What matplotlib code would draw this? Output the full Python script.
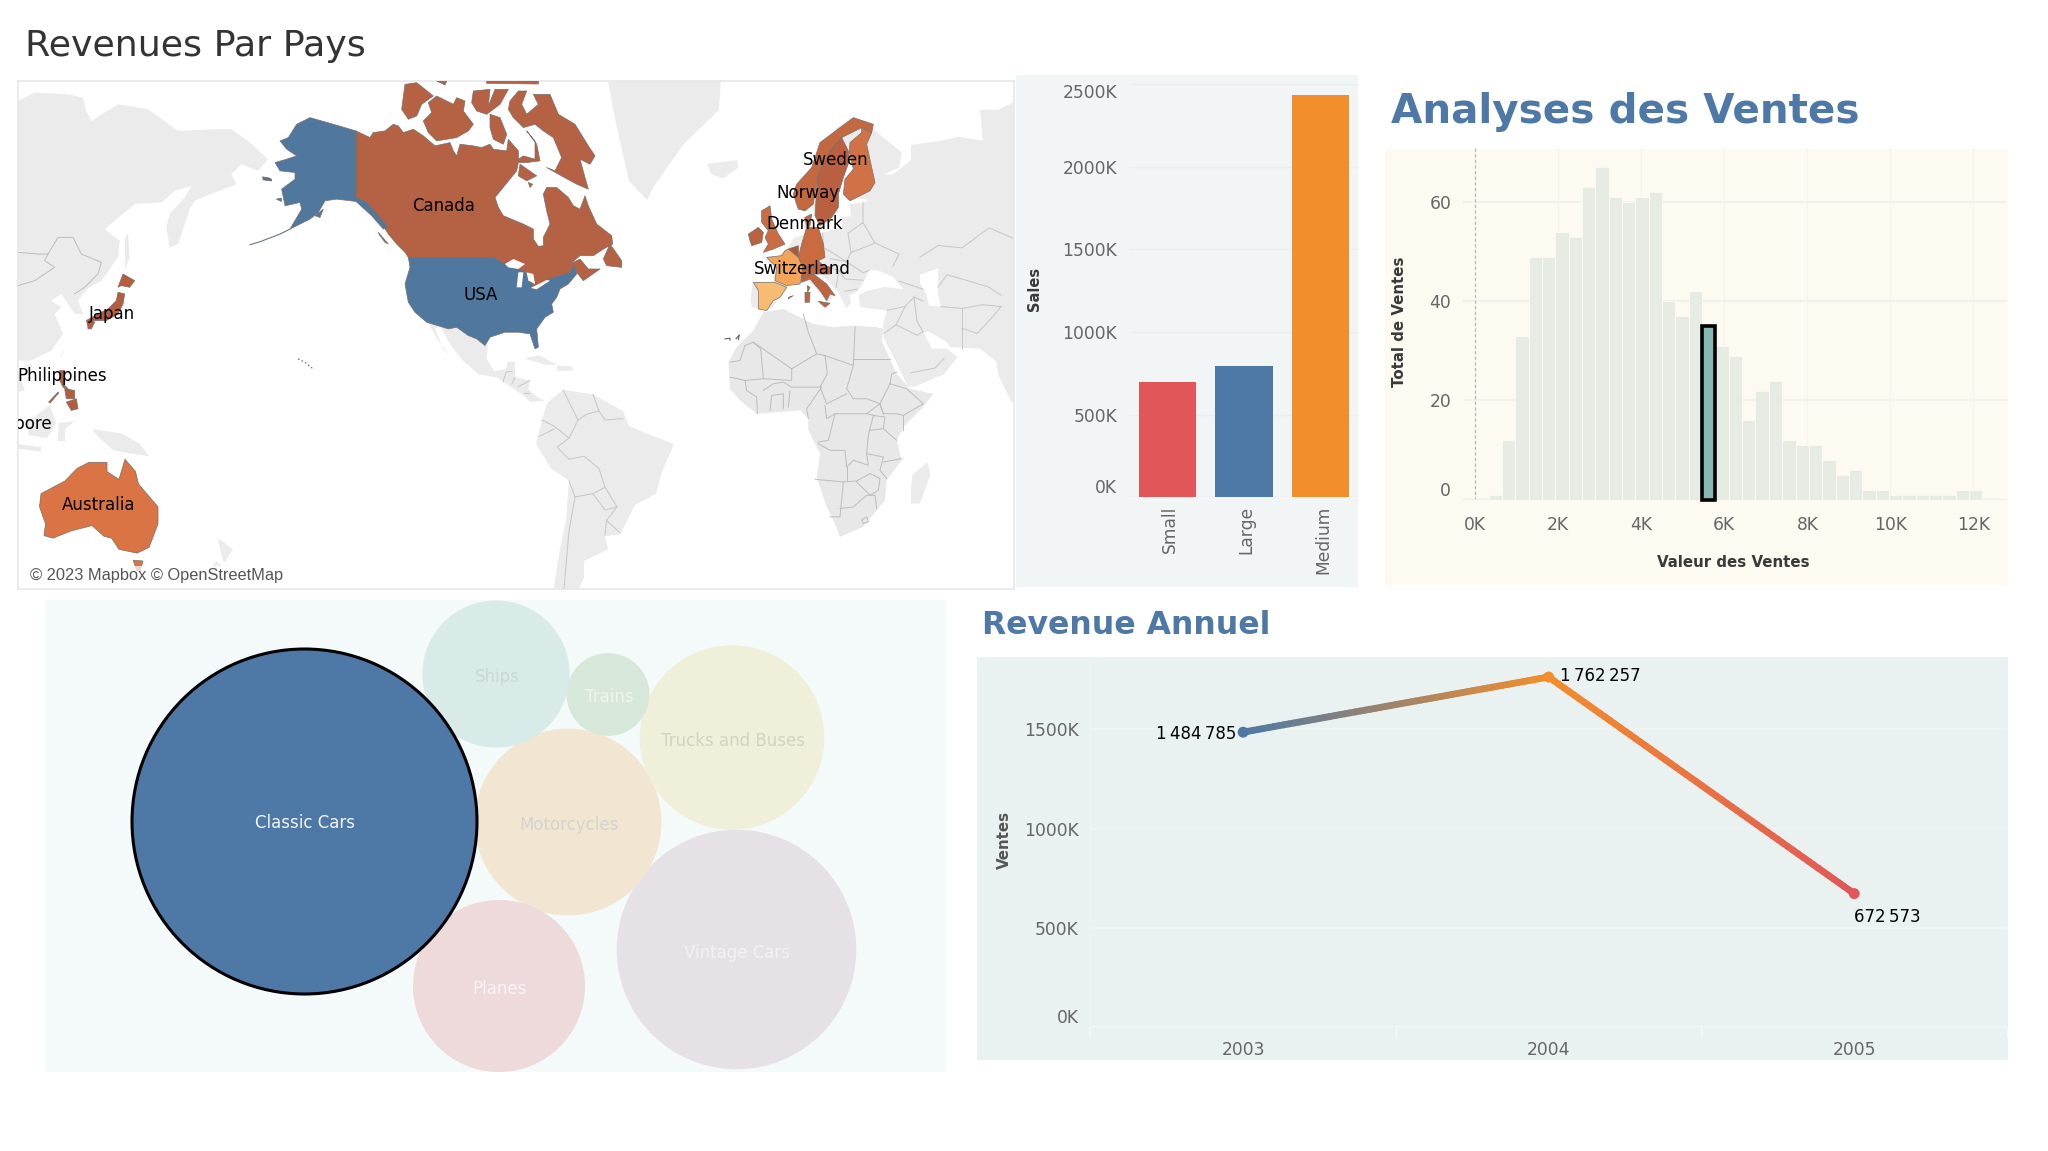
import numpy as np
import matplotlib
matplotlib.use("Agg")
import matplotlib.pyplot as plt
from matplotlib.collections import LineCollection
from matplotlib.patches import Polygon, Rectangle
from matplotlib.transforms import Affine2D, ScaledTranslation

W, H = 2048, 1151

BLUE = "#4e79a7"
ORANGE = "#f28e2b"
RED = "#e15759"
TICK = "#666666"

# sales by deal size
deal_sizes = ["Small", "Large", "Medium"]
deal_sales = [696, 794, 2437]
deal_colors = [RED, BLUE, ORANGE]

# histogram of order values
bin_width = 0.3215
bin_counts = [1, 12, 33, 49, 49, 54, 53, 63, 67, 61, 60, 61, 62, 40, 37, 42, 35, 31, 29,
              16, 22, 24, 12, 11, 11, 8, 5, 6, 2, 2, 1, 1, 1, 1, 1, 2, 2]
selected_bin = 16

# yearly revenue
years = [2003, 2004, 2005]
revenue = [1484785, 1762257, 672573]
revenue_labels = ["1\u2009484\u2009785", "1\u2009762\u2009257", "672\u2009573"]
year_colors = [BLUE, ORANGE, RED]

# bubbles, sales in K
product_lines = ["Classic Cars", "Vintage Cars", "Motorcycles", "Trucks and Buses", "Planes", "Ships", "Trains"]
product_sales = [3920, 1890, 1150, 1120, 975, 714, 226]
bubble_x = [304, 736.5, 568, 732, 499, 496, 608]
bubble_y = [820.5, 949.5, 822, 737.5, 986, 674, 694.5]
bubble_colors = [BLUE, "#e6e1e7", "#f2e5d2", "#f0efd9", "#eed9db", "#d9ebe8", "#d7e8da"]
bubble_text = ["#f2f5f8", "#f4f1f4", "#d3d4ce", "#d2d3c2", "#f9f3f4", "#c9d8d5", "#eef5ef"]

# background land, lon/lat
eurasia_west = [(-9, 37), (-9.5, 38.7), (-8.8, 43), (-1.8, 43.4), (-1.2, 46), (-4.7, 48.4), (-1.5, 48.7), (1.5, 50.2),
                (3.5, 51.4), (4.8, 53), (8.5, 53.7), (8.2, 57), (10.5, 57.7), (10.2, 54.5), (14, 54), (18.5, 54.7),
                (21, 55.2), (21, 57), (24, 57.2), (23.5, 59.3), (28, 59.6), (30, 60), (26, 60.3), (22.5, 60), (21.5, 61.5),
                (21.5, 63), (25, 65), (22, 65.8), (17.5, 62), (17, 60.5), (18.8, 59.8), (16.5, 58), (16, 56.2), (14.3, 55.5),
                (12.8, 55.5), (11, 59), (8, 58), (5.5, 59), (5, 62), (10, 64), (14, 67.5), (19, 70), (25, 71), (31, 70),
                (41, 67), (40, 65), (35, 64), (38, 64), (44, 66), (44, 68), (54, 68.5), (60, 69), (68, 68.5), (67, 72),
                (73, 72), (80, 73), (100, 76), (100, 5), (80, 8), (77.5, 8), (73, 17), (72.5, 21), (67, 25), (57, 25.5),
                (56, 27), (50, 30), (48, 30), (51, 25), (56, 25), (59.5, 22.5), (55, 17), (45, 13), (43, 13), (39, 21), (35, 28),
                (34.5, 31.5), (36, 36), (30, 36.5), (27, 37), (26.5, 40), (29, 41), (35, 42), (41.5, 41.5), (38, 44.5), (33, 46),
                (30, 46), (28, 43), (26, 40.8), (23.5, 40), (24, 38), (22.5, 36.5), (19.5, 41), (13.5, 45.5), (12.3, 45.3),
                (18.5, 40), (16, 38), (12, 42), (8.5, 44.3), (3, 43), (3, 41.8), (0, 39.5), (-2, 36.8), (-5.5, 36)]
asia_islands = [
    [(95, 5.5), (104, -2), (106, -6), (102, -4), (97, 1)],
    [(106, -6), (114, -7), (114, -8.5), (106, -7.5)],
    [(109, 1), (117, 7), (119, 1), (116, -4), (110, -3)],
    [(119.5, -5), (120, 1), (125, 1.5), (122, -1), (122, -5)],
    [(131, -1), (141, -2.5), (147, -6), (150, -10), (143, -9), (138, -8), (133, -3.5)],
    [(120, 22), (122, 25), (121, 23)],
    [(142, 46), (143.5, 49), (143, 54), (142, 53), (142, 48)],
    [(109, 20), (111, 20), (110, 18.3)],
    [(173, -35), (178, -38), (175, -41.5), (174, -39)],
    [(172.5, -41), (174, -42), (170, -46.5), (167, -46)],
]
madagascar = [(49.5, -12), (50.5, -16), (47, -25), (44, -25), (44, -20), (44.5, -16)]
south_america = [(-77, 8), (-72, 12), (-62, 10.5), (-52, 5), (-50, 0), (-44, -2.5), (-35, -6), (-39, -15), (-41, -22),
                 (-48, -25.5), (-53, -34), (-58, -34.5), (-57, -38), (-65, -41), (-65, -45), (-69, -51), (-68, -55),
                 (-72, -53), (-75, -47), (-73, -38), (-71, -30), (-70, -18), (-76, -14), (-81, -6), (-80, -2), (-79, 2),
                 (-77.5, 7)]
mexico = [(-117, 32.5), (-114, 28), (-110, 23), (-112, 25), (-114.7, 31), (-113, 31.5), (-109, 25.5), (-105, 21),
          (-100, 17), (-94, 16), (-91, 14), (-85, 10), (-83, 8), (-78, 8.5), (-80, 9.3), (-83.5, 12), (-83, 15), (-88, 16),
          (-88, 21), (-90.5, 21), (-91, 18.7), (-95, 18), (-97.5, 22), (-97, 26), (-106, 32)]
caribbean = [[(-85, 22), (-80, 23), (-74, 20), (-77.5, 20)], [(-74, 19.8), (-69, 19.5), (-68.5, 18.3), (-74, 18)]]
greenland = [(-73, 78), (-60, 82), (-35, 83.5), (-18, 80), (-20, 72), (-32, 68), (-42, 62), (-44, 60), (-50, 63),
             (-54, 70), (-58, 76)]
iceland = [(-24, 65.5), (-14, 66), (-13.5, 65), (-18.5, 63.4), (-22.5, 64)]
caspian = [(47, 45), (53, 46.5), (53, 40), (54, 37), (50, 37.3), (49, 40.5), (47, 43)]
border_lines = [
    [(61, 36.5), (61, 25)], [(61, 36.5), (54, 37)], [(61, 31), (66, 29.5), (71, 34), (74, 37)],
    [(61, 36.5), (68, 37.5), (74, 37)], [(53, 42), (56, 45), (61, 44), (70, 42), (74, 40)],
    [(47, 49), (53, 51.5), (61, 51), (70, 55), (78, 53)], [(23, 54), (24, 50), (22.5, 48), (28, 45.5), (30, 46)],
    [(24, 50), (32, 52), (40, 49.7), (38, 47)], [(23, 54), (28, 56), (28, 59.6)], [(28, 56), (32, 52)], [(40, 43.5), (48, 41.5)],
    [(14.5, 54), (15, 51), (19, 49.5), (22.5, 48)], [(17, 48.7), (22.5, 48)], [(16.2, 46.8), (20, 46), (22, 44), (28, 43.7)],
    [(20, 46), (19, 42)], [(22, 41), (26, 41.5)], [(36, 36), (42, 37), (45, 39.5), (48, 38.5)], [(35, 29.5), (39, 32), (46, 29), (48, 30)],
    [(42, 37), (39, 32)], [(45, 39.5), (46, 33), (48, 30)], [(44, 17.5), (52, 19), (55, 22)],
    [(-72, 12), (-67, 2), (-70, -4)], [(-62, 10.5), (-60, 5), (-64, 4), (-67, 2)],
    [(-79, 2), (-75, 0), (-70, -4), (-74, -7), (-70, -11), (-65, -10), (-60, -14), (-58, -20), (-54, -26), (-57.5, -30), (-53, -33.5)],
    [(-70, -18), (-68, -23), (-70, -33), (-72, -50)], [(-68, -23), (-62, -22), (-58, -20)], [(-62, -22), (-58, -27), (-54, -26)],
    [(-57.5, -30), (-58, -34)], [(-60, 5), (-58, 2), (-52, 2.5)], [(-80, -3.5), (-75, -1)], [(-92, 14.5), (-91, 17.7), (-89, 18)],
    [(-89, 14), (-88, 16)], [(-87, 13), (-83, 15)], [(-85, 11), (-83.5, 11)],
]
australia = [(114, -22), (122, -18), (126, -14), (130, -12), (136, -12), (136, -15), (140, -17.5), (142, -11), (145.5, -15),
             (146.5, -19), (153, -26), (153, -31), (150, -37.5), (146, -39), (140, -38), (137.5, -35), (135, -34.5),
             (131, -31.5), (124, -33), (118, -35), (115, -34.3), (115.5, -31), (113.5, -26)]
tasmania = [(144.7, -40.8), (148, -41), (147, -43.5), (146, -43.5)]

# outlines, in crop units (origin and 3x scale below)
NA_CROP = (260, 80)
canada_main = [(288, 150), (330, 170), (340, 155), (375, 150), (400, 130), (415, 135), (430, 155), (460, 145), (490, 165),
               (525, 195), (570, 185), (580, 210), (590, 225), (600, 190), (640, 195), (665, 200), (690, 190), (700, 205),
               (740, 210), (745, 175), (775, 210), (775, 235), (790, 225), (825, 235), (825, 180), (800, 150), (830, 190),
               (840, 240), (800, 245), (775, 245), (770, 270), (705, 350), (715, 380), (730, 405), (790, 430), (820, 445),
               (820, 475), (835, 497), (850, 495), (850, 470), (870, 430), (860, 390), (850, 340), (860, 320), (890, 320),
               (925, 350), (940, 375), (960, 385), (975, 345), (985, 375), (1010, 430), (1055, 465), (1058, 490), (1030, 505),
               (1000, 525), (960, 525), (930, 550), (960, 535), (985, 565), (1020, 565), (970, 600), (950, 575), (945, 555),
               (925, 578), (880, 590), (855, 605), (815, 625), (820, 585), (790, 572), (735, 550), (700, 530), (445, 530),
               (435, 515), (410, 490), (385, 460), (360, 420), (340, 390), (320, 365), (288, 350)]
canada_isles = [
    [(435, 10), (470, 5), (520, 45), (485, 70), (470, 105), (445, 115), (425, 85)],
    [(505, 65), (530, 45), (580, 70), (590, 50), (615, 60), (610, 90), (640, 130), (625, 150), (590, 170), (530, 180), (505, 155),
     (490, 120), (515, 95)],
    [(640, 30), (690, 25), (685, 75), (705, 25), (745, 25), (720, 70), (700, 85), (680, 100), (650, 90), (635, 65)],
    [(690, 100), (720, 110), (740, 160), (730, 190), (700, 175), (690, 140)],
    [(750, 60), (775, 30), (800, 30), (785, 70), (800, 100), (835, 70), (820, 40), (870, 40), (895, 100), (945, 130), (985, 195),
     (1005, 225), (990, 250), (960, 235), (975, 290), (985, 325), (950, 310), (895, 280), (860, 260), (885, 270), (905, 230),
     (880, 170), (850, 150), (825, 130), (790, 140), (760, 110), (745, 85)],
    [(780, 250), (830, 285), (800, 300), (775, 285)],
    [(1030, 535), (1050, 490), (1085, 540), (1085, 560), (1040, 555)],
    [(355, 455), (385, 490), (375, 485), (358, 462)],
    [(530, 0), (560, 0), (555, 12)],
    [(680, 0), (835, 0), (835, 9), (680, 7)],
    [(805, 305), (818, 310), (810, 320)],
]
usa_main = [(445, 530), (700, 530), (735, 550), (790, 572), (820, 585), (815, 625), (855, 605), (880, 590), (925, 578), (945, 555),
            (950, 580), (925, 610), (900, 625), (890, 650), (875, 670), (880, 695), (855, 710), (830, 745), (835, 800), (825, 805),
            (810, 760), (775, 755), (735, 755), (690, 770), (675, 795), (650, 775), (625, 765), (590, 740), (565, 745), (500, 725),
            (465, 695), (445, 665), (435, 610), (450, 560)]
alaska_main = [(288, 150), (220, 130), (150, 110), (110, 130), (85, 170), (60, 180), (80, 205), (110, 225), (80, 235), (45, 245),
               (60, 270), (105, 275), (105, 295), (65, 325), (75, 375), (120, 365), (125, 385), (90, 445), (150, 415), (175, 395),
               (195, 360), (230, 355), (288, 362), (335, 405), (370, 445), (385, 440), (320, 365), (288, 350)]
alaska_isles = [[(165, 405), (190, 385), (180, 410)], [(8, 288), (30, 292), (35, 300), (10, 296)]]
aleutians = [(90, 445), (60, 460), (0, 483), (-30, 492)]
lakes = [
    [(735, 550), (760, 535), (795, 550), (775, 565), (745, 560)],
    [(770, 620), (775, 575), (790, 575), (785, 620)],
    [(800, 575), (820, 580), (825, 610), (805, 600)],
    [(812, 622), (860, 598), (870, 600), (830, 626)],
]

EAST_CROP = (18, 80)
asia_east = [(-60, 60), (0, 60), (50, 35), (150, 40), (195, 50), (205, 90), (220, 120), (300, 70), (390, 85), (480, 150), (590, 145),
             (640, 145), (690, 180), (750, 235), (720, 270), (670, 250), (640, 280), (655, 310), (590, 335), (530, 360), (515, 385),
             (480, 490), (455, 500), (445, 440), (455, 400), (500, 350), (520, 315), (470, 330), (430, 365), (350, 370), (260, 445),
             (305, 480), (300, 530), (250, 600), (180, 640), (215, 615), (180, 660), (195, 700), (170, 700), (130, 640), (100, 660), (130, 680),
             (110, 700), (135, 760), (100, 810), (40, 840), (-60, 840)]
indochina = [(-60, 880), (5, 880), (20, 930), (-60, 950)]
east_borders = [
    [(0, 515), (60, 520), (90, 520), (120, 470), (165, 470), (190, 520), (250, 545), (240, 580), (200, 620), (170, 640)],
    [(0, 615), (50, 600), (110, 560), (80, 540), (90, 520)],
]
japan = [[(315, 580), (350, 600), (335, 620), (310, 615), (300, 620)],
         [(300, 635), (320, 640), (315, 670), (300, 700), (265, 720), (230, 720), (210, 735), (205, 720), (240, 700), (270, 685), (295, 660)],
         [(208, 722), (230, 725), (220, 745), (210, 745)]]
philippines = [[(125, 870), (140, 870), (140, 915), (160, 935), (135, 920), (125, 900)],
               [(145, 965), (175, 955), (180, 985), (160, 990)],
               [(140, 925), (170, 930), (170, 955), (145, 955)],
               [(92, 965), (120, 935), (122, 938), (96, 968)]]
bering_isles = [[(735, 290), (760, 295), (760, 300), (735, 297)], [(775, 355), (790, 352), (790, 362)]]
hawaii = [(840, 835), (860, 845), (885, 865)]

EU_CROP = (730, 110)
norway = [(430, 40), (370, 20), (330, 50), (270, 95), (265, 110), (245, 170), (200, 220), (190, 250), (205, 295), (225, 300), (250, 280),
          (262, 200), (300, 120), (335, 80), (365, 65), (395, 50), (425, 65)]
sweden = [(335, 80), (355, 120), (358, 150), (340, 200), (325, 250), (325, 290), (305, 320), (270, 345), (255, 315), (262, 200), (300, 120)]
finland = [(395, 50), (425, 65), (410, 100), (425, 170), (435, 215), (420, 240), (360, 270), (340, 250), (345, 205), (370, 175), (358, 125),
           (360, 95), (395, 65)]
denmark = [(225, 320), (245, 310), (240, 345), (230, 350)]
uk = [(95, 300), (120, 285), (125, 325), (145, 370), (165, 400), (130, 415), (100, 425), (115, 400), (105, 380), (115, 360), (95, 335)]
ireland = [(55, 370), (85, 350), (100, 365), (95, 395), (65, 405), (60, 390)]
germany = [(230, 350), (265, 350), (280, 400), (285, 440), (265, 450), (280, 465), (215, 470), (205, 440), (215, 400)]
france = [(165, 420), (175, 415), (205, 440), (218, 470), (215, 500), (210, 520), (170, 525), (135, 510), (140, 470), (110, 440), (155, 435)]
benelux = [(175, 415), (205, 405), (205, 440)]
spain = [(70, 515), (135, 515), (170, 530), (150, 560), (130, 570), (110, 600), (85, 595), (85, 540)]
italy = [(215, 500), (250, 490), (290, 520), (315, 555), (300, 550), (290, 570), (270, 540), (240, 505), (215, 515)]
alps = [(218, 470), (280, 465), (305, 470), (300, 490), (250, 490), (215, 500)]
sicily = [(265, 572), (300, 578), (285, 590)]
sardinia = [(225, 545), (240, 545), (238, 575), (225, 575)]
corsica = [(232, 525), (240, 530), (233, 545)]
balearic = [(175, 560), (190, 555), (175, 565)]

AF_CROP = (720, 290)
africa = [(130, 65), (190, 55), (280, 100), (340, 110), (400, 105), (470, 110), (490, 115), (485, 150), (530, 250), (570, 295), (640, 310),
          (610, 350), (550, 410), (530, 450), (545, 510), (500, 570), (495, 630), (470, 660), (430, 710), (360, 740), (340, 690), (320, 650),
          (290, 560), (300, 490), (265, 420), (265, 385), (240, 360), (110, 370), (60, 330), (30, 295), (25, 215), (50, 170), (100, 120)]
canary = [[(15, 145), (30, 143), (30, 149)], [(48, 145), (58, 133), (55, 147)]]
africa_borders = [
    [(100, 155), (215, 235), (290, 190), (265, 125), (250, 70)], [(290, 190), (315, 195), (400, 225), (405, 110)], [(400, 205), (510, 205)],
    [(400, 225), (380, 295), (400, 325), (440, 325), (480, 340), (490, 370)], [(315, 195), (322, 250), (300, 290), (320, 340), (380, 310)],
    [(130, 265), (122, 175), (100, 155)], [(30, 215), (60, 210), (75, 165), (100, 155)], [(30, 260), (75, 270), (130, 265), (215, 270), (215, 235)],
    [(130, 300), (160, 280), (190, 275), (215, 290), (300, 290)], [(75, 270), (80, 300), (110, 320), (112, 370)],
    [(150, 360), (155, 315), (190, 310), (190, 355)], [(205, 350), (210, 300)], [(305, 290), (260, 355), (265, 385)],
    [(315, 345), (320, 385), (345, 370), (440, 370), (480, 340)], [(345, 370), (325, 450), (295, 455)],
    [(440, 370), (460, 375), (445, 435), (440, 490), (445, 525), (400, 510), (380, 530), (375, 480), (330, 480), (295, 460)],
    [(460, 375), (495, 380), (490, 415), (530, 450)], [(490, 415), (450, 420)],
    [(490, 370), (480, 340), (510, 280), (560, 295), (610, 340), (550, 375), (530, 370), (490, 370)], [(550, 375), (550, 420)],
    [(510, 280), (515, 250), (530, 245)], [(440, 490), (490, 500), (480, 540), (500, 565)], [(490, 515), (545, 505)],
    [(285, 567), (370, 575), (410, 572), (450, 550), (480, 565), (475, 600), (450, 615), (410, 575)], [(370, 575), (360, 680), (330, 680)],
    [(360, 655), (400, 650), (440, 615), (465, 615), (470, 655)], [(380, 530), (380, 570)],
    [(425, 690), (440, 680), (445, 695), (430, 700), (425, 690)],
]

map_labels = ["Canada", "USA", "Australia", "Japan", "Philippines", "Sweden", "Norway", "Denmark", "Switzerland"]
map_label_x = [443.5, 481, 98.5, 112, 62, 836, 807.5, 805, 802]
map_label_y = [206, 295.4, 505, 314, 376, 160, 193, 224, 269]

fig = plt.figure(figsize=(W / 100, H / 100), dpi=100, facecolor="white")
px = Affine2D().scale(1 / W, -1 / H).translate(0, 1) + fig.transFigure


def panel(l, t, r, b, color):
    fig.add_artist(Rectangle((l, b), r - l, t - b, transform=px, facecolor=color, edgecolor="none", zorder=0))


def make_axes(l, t, r, b):
    ax = fig.add_axes([l / W, 1 - b / H, (r - l) / W, (b - t) / H])
    ax.patch.set_alpha(0)
    for s in ax.spines.values():
        s.set_visible(False)
    ax.tick_params(length=0, labelsize=12.3, labelcolor=TICK)
    return ax


def lonlat(pts, shift=0):
    # mercator, map is 3 px per degree
    pts = np.array(pts, dtype=float)
    return np.column_stack([pts[:, 0] + shift, np.log(np.tan(np.pi / 4 + np.radians(pts[:, 1]) / 2))])


def crop(pts, origin):
    pts = np.array(pts, dtype=float)
    return np.column_stack([(origin[0] + pts[:, 0] / 3 - 779) / 3, (425.7 - (origin[1] + pts[:, 1] / 3)) / 172])


def fill(ax, xy, color, edge="none", lw=0.0, z=2):
    ax.add_patch(Polygon(xy, closed=True, facecolor=color, edgecolor=edge, linewidth=lw, zorder=z, joinstyle="round"))


def edge_labels(ax):
    # tableau pushes the end labels inside the axis
    ax.get_yticklabels()[0].set_va("bottom")


fig.text(19 * 1.306, 35.5 * 1.306, "Revenues Par Pays", transform=px, fontsize=26.2, color="#333333", va="center")
fig.text(1391, 112, "Analyses des Ventes", transform=px, fontsize=29.2, color=BLUE, weight="bold", va="center")
fig.text(982, 626, "Revenue Annuel", transform=px, fontsize=22.7, color=BLUE, weight="bold", va="center")

# map
ax = make_axes(18, 81, 1014, 589)
ax.set_xlim(-253.67, 78.33)
ax.set_ylim(-0.949, 2.01)
ax.set_xticks([])
ax.set_yticks([])
LAND = "#ebebeb"
BORDER = "#c6c6c6"
fill(ax, lonlat(eurasia_west), LAND)
fill(ax, lonlat(caspian), "white", z=3)
fill(ax, crop(asia_east, EAST_CROP), LAND)
fill(ax, crop(indochina, EAST_CROP), LAND)
fill(ax, crop(africa, AF_CROP), "#e8e8e8")
for isl in asia_islands:
    fill(ax, lonlat(isl, -360), LAND)
for shape in [madagascar, south_america, mexico, greenland, iceland] + caribbean:
    fill(ax, lonlat(shape), LAND)
for line in border_lines:
    xy = lonlat(line)
    ax.plot(xy[:, 0], xy[:, 1], color=BORDER, lw=0.7, zorder=3)
for line in africa_borders:
    xy = crop(line, AF_CROP)
    ax.plot(xy[:, 0], xy[:, 1], color="#bcbcbc", lw=0.7, zorder=3)
for line in east_borders:
    xy = crop(line, EAST_CROP)
    ax.plot(xy[:, 0], xy[:, 1], color="#bcbcbc", lw=0.7, zorder=3)

CANADA, USA_C = "#b56244", "#50779e"
country_shapes = [(crop(s, NA_CROP), CANADA) for s in canada_isles + [canada_main]]
country_shapes += [(crop(s, NA_CROP), USA_C) for s in [usa_main, alaska_main] + alaska_isles]
country_shapes += [(crop(s, EAST_CROP), USA_C) for s in bering_isles]
country_shapes += [(lonlat(s, -360), "#da7444") for s in [australia, tasmania]]
country_shapes += [(crop(s, EAST_CROP), "#b55e3e") for s in japan + philippines]
country_shapes += [(crop(s, EU_CROP), c) for s, c in [
    (ireland, "#b8623f"), (uk, "#c96c42"), (denmark, "#c46840"), (germany, "#c96a3f"), (benelux, "#a85a3e"), (france, "#f4a458"),
    (spain, "#f7bb72"), (balearic, "#f7bb72"), (alps, "#bf643f"), (italy, "#bf643f"), (sicily, "#bf643f"), (sardinia, "#bf643f"),
    (corsica, "#bf643f"), (norway, "#c46840"), (sweden, "#b96040"), (finland, "#d07245")]]
for xy, color in country_shapes:
    fill(ax, xy, color, edge="#77706c", lw=0.5, z=4)
for lake in lakes:
    fill(ax, crop(lake, NA_CROP), "white", z=5)
xy = crop(aleutians, NA_CROP)
ax.plot(xy[:, 0], xy[:, 1], color="#6b7580", lw=0.8, zorder=4)
xy = crop(hawaii, EAST_CROP)
ax.plot(xy[:, 0], xy[:, 1], color="#5f6b76", lw=0.8, ls=(0, (1.5, 2)), zorder=4)
for isl in canary:
    xy = crop(isl, AF_CROP)
    ax.plot(xy[:, 0], xy[:, 1], color="#666666", lw=0.8, zorder=4)
for name, x, y in zip(map_labels, map_label_x, map_label_y):
    ax.text(x, y, name, transform=px, fontsize=12, color="black", ha="center", va="center", zorder=6, clip_on=True)
ax.text(52.6, 424, "Singapore", transform=px, fontsize=12, color="black", ha="right", va="center", zorder=6, clip_on=True)
ax.text(30, 576, "\u00a9 2023 Mapbox \u00a9 OpenStreetMap", transform=px, fontsize=11.8, family="Liberation Sans",
        color="#555555", va="center", zorder=7,
        bbox=dict(facecolor="white", edgecolor="none", alpha=0.7, pad=2))
for s in ax.spines.values():
    s.set_visible(True)
    s.set_color("#e8e8e8")
    s.set_linewidth(1.2)

# bars
panel(1016, 75, 1358, 587, "#f1f5f5")
ax = make_axes(1129, 75, 1359, 497.3)
ax.bar(range(3), deal_sales, width=0.745, color=deal_colors, zorder=3)
ax.set_xlim(-0.5, 2.5)
ax.set_ylim(0, 2555)
ax.set_xticks(range(3), deal_sizes, rotation=90)
ax.tick_params(axis="x", pad=6)
for label in ax.get_xticklabels():
    label.set_transform(label.get_transform() + ScaledTranslation(2.5 / 100, 0, fig.dpi_scale_trans))
ax.set_yticks(range(0, 2501, 500), [f"{v}K" for v in range(0, 2501, 500)])
ax.tick_params(axis="y", pad=8.5)
ax.grid(axis="y", color="#ebefef", lw=1, zorder=0)
ax.axhline(0, color="#e6eaea", lw=1)
edge_labels(ax)
ax.get_yticklabels()[-1].set_va("top")
ax.set_ylabel("Sales", fontsize=10.5, weight="bold", color="#3a3a3a", va="center")
ax.yaxis.set_label_coords(1035, 289, transform=px)

# histogram
panel(1385, 149, 2008, 585, "#fdfaf2")
ax = make_axes(1463, 148, 2007, 499.7)
lefts = bin_width * (np.arange(len(bin_counts)) + 1)
ax.bar(lefts, bin_counts, width=bin_width, align="edge", color="#e6ece4", edgecolor="#fdfaf2", linewidth=0.6, zorder=3)
ax.bar(lefts[selected_bin], bin_counts[selected_bin], width=bin_width, align="edge", color="#87b8b2",
       edgecolor="black", linewidth=2.6, zorder=4, clip_on=False)
ax.set_xlim(-0.294, 12.81)
ax.set_ylim(0, 70.9)
ax.set_xticks(range(0, 13, 2), [f"{v}K" for v in range(0, 13, 2)])
ax.set_yticks([0, 20, 40, 60])
ax.tick_params(axis="x", pad=12)
ax.tick_params(axis="y", pad=8.5)
ax.grid(axis="y", color="#f4f1ec", lw=1.6, zorder=0)
ax.grid(axis="x", color="#f6f3ee", lw=0.8, zorder=0)
ax.axvline(0, color="#b8b6b0", lw=0.9, ls=(0, (2.5, 2)), zorder=2)
ax.axhline(0, color="#f1efea", lw=1.6, zorder=2)
edge_labels(ax)
ax.set_xlabel("Valeur des Ventes", fontsize=10.8, weight="bold", color="#3a3a3a", va="center")
ax.xaxis.set_label_coords(1733, 563, transform=px)
ax.set_ylabel("Total de Ventes", fontsize=10.8, weight="bold", color="#3a3a3a", va="center")
ax.yaxis.set_label_coords(1400, 322, transform=px)

# bubbles
panel(45, 600, 946, 1072, "#f4f9f9")
ax = make_axes(45, 600, 946, 1072)
ax.set_xlim(45, 946)
ax.set_ylim(1072, 600)
ax.set_xticks([])
ax.set_yticks([])
sizes = np.array(product_sales) * 15.74
ax.scatter(bubble_x[1:], bubble_y[1:], s=sizes[1:], c=bubble_colors[1:], linewidths=0, zorder=2, clip_on=False)
ax.scatter(bubble_x[:1], bubble_y[:1], s=sizes[:1], c=bubble_colors[:1], edgecolors="black", linewidths=2.2, zorder=3,
           clip_on=False)
for name, x, y, c in zip(product_lines, bubble_x, bubble_y, bubble_text):
    ax.text(x + 1, y + 3, name, fontsize=12, color=c, ha="center", va="center", zorder=4)

# yearly line
panel(977, 657, 2008, 1060, "#e9f2f0")
ax = make_axes(1090.3, 657, 2007, 1027.3)
ax.set_xlim(2002.5, 2005.5)
ax.set_ylim(0, 1863000)
ax.set_xticks(years, [str(y) for y in years])
ax.tick_params(axis="x", pad=10)
ax.set_yticks(range(0, 1500001, 500000), [f"{v // 1000}K" for v in range(0, 1500001, 500000)])
ax.tick_params(axis="y", pad=8.5)
ax.grid(axis="y", color="#f0f5f3", lw=1.2, zorder=0)
ax.axhline(0, color="#f4f8f7", lw=1.2)
ax.axvline(2002.5, color="#eef4f2", lw=1)
for b in (2002.5, 2003.5, 2004.5, 2005.5):
    ax.plot([b, b], [0, -50000], color="#f4f8f7", lw=1, clip_on=False)
edge_labels(ax)
ax.set_ylabel("Ventes", fontsize=10.8, weight="bold", color="#555555", va="center")
ax.yaxis.set_label_coords(1004, 840, transform=px)

segs, seg_colors = [], []
for i in range(len(years) - 1):
    c0 = np.array(matplotlib.colors.to_rgb(year_colors[i]))
    c1 = np.array(matplotlib.colors.to_rgb(year_colors[i + 1]))
    steps = np.linspace(0, 1, 61)
    for a, b in zip(steps[:-1], steps[1:]):
        segs.append([(years[i] + a * (years[i + 1] - years[i]), revenue[i] + a * (revenue[i + 1] - revenue[i])),
                     (years[i] + b * (years[i + 1] - years[i]), revenue[i] + b * (revenue[i + 1] - revenue[i]))])
        seg_colors.append(c0 + (c1 - c0) * (a + b) / 2)
ax.add_collection(LineCollection(segs, colors=seg_colors, linewidths=4.9, capstyle="round", zorder=3))
ax.scatter(years, revenue, s=62, c=year_colors, zorder=4, linewidths=0)
ax.annotate(revenue_labels[0], (years[0], revenue[0]), xytext=(-4.5, -1), textcoords="offset points", ha="right",
            va="center", fontsize=12, color="black", zorder=5)
ax.annotate(revenue_labels[1], (years[1], revenue[1]), xytext=(8.5, 1), textcoords="offset points", ha="left",
            va="center", fontsize=12, color="black", zorder=5)
ax.annotate(revenue_labels[2], (years[2], revenue[2]), xytext=(0, -16.5), textcoords="offset points", ha="left",
            va="center", fontsize=12, color="black", zorder=5)

fig.savefig("out.png", dpi=100)
